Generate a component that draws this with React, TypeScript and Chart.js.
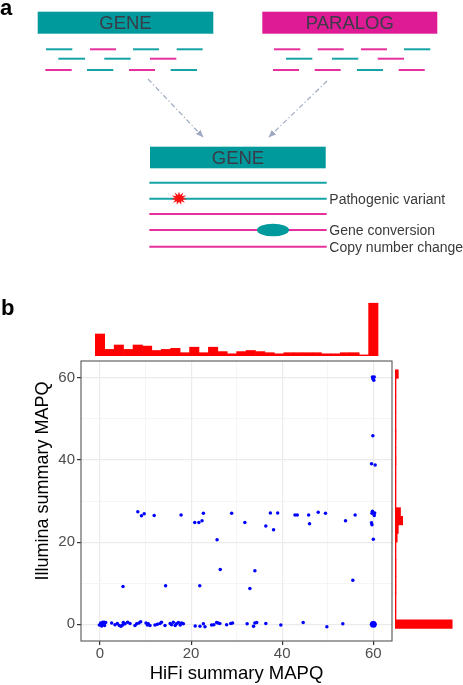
import React, { useEffect, useRef } from "react";
import { Chart, registerables } from "chart.js";
Chart.register(...registerables);

const FONT = "'Liberation Sans', Arial, Helvetica, sans-serif";

// ---------- panel b data ----------
const hifiMapq = [
  -0.14, 0.15, 0.37, 0.59, 0.8, 1.0, 1.24, 0.6, 0.9,
  2.56, 3.29, 3.8, 4.24, 4.6, 4.97, 5.12, 5.49, 6.07, 6.59,
  7.68, 8.05, 8.56, 8.93,
  10.1, 10.4, 10.6, 10.98,
  12.07, 12.6, 13.17, 13.5, 14.27,
  15.4, 15.7, 16.1, 16.5, 16.8, 17.2, 17.6, 17.9, 18.3,
  20.9, 21.95, 22.7, 23.05,
  24.5, 25.0, 25.6, 25.9, 26.3,
  27.8, 28.7, 29.1,
  32.3, 33.7, 34.0, 34.4,
  36.4, 39.7, 44.6, 49.8, 53.3,
  59.7, 60.3, 59.7, 60.3, 60.0, 60.0, 60.0, 59.6, 60.4,
  5.05, 14.4, 21.9, 26.4, 32.9, 34.0, 55.5,
  25.7, 60.0,
  8.3, 9.1, 9.7, 11.9, 17.8, 20.8, 21.7, 22.4, 22.7, 28.9, 31.8,
  36.4, 37.4, 38.1, 39.0, 42.8, 43.3, 45.8, 46.0, 47.9, 49.5, 53.9, 56.0,
  59.8, 60.3, 60.2, 59.7, 59.6, 59.7,
  59.6, 60.4, 59.9,
  59.8, 60.2, 59.9, 60.1,
];
const illuminaMapq = [
  -0.2, 0.3, -0.4, 0.5, 0.1, -0.3, 0.4, -0.1, 0.5,
  0.3, -0.1, 0.2, -0.3, -0.5, -0.2, 0.4, 0.1, 0.5, 0.2,
  -0.3, 0.1, 0.3, 0.6,
  0.3, -0.2, 0.1, -0.3,
  -0.2, 0.0, 0.2, 0.5, -0.3,
  0.2, -0.1, 0.5, -0.3, 0.1, 0.4, -0.2, 0.3, 0.1,
  -0.4, -0.5, 0.1, -0.6,
  -0.2, -0.1, 0.4, 0.3, 0.2,
  -0.1, 0.2, 0.3,
  0.1, -0.5, 0.3, 0.4,
  0.2, -0.2, 0.4, -0.6, 0.1,
  0.3, 0.3, -0.35, -0.35, 0.0, 0.4, -0.4, 0.0, 0.0,
  9.2, 9.4, 9.4, 13.3, 8.7, 13.0, 10.7,
  20.6, 20.7,
  27.4, 26.4, 26.9, 26.5, 26.6, 24.8, 24.8, 25.2, 27.0, 27.0, 24.8,
  23.9, 27.1, 23.0, 27.1, 26.6, 26.6, 26.6, 24.5, 27.3, 27.0, 25.2, 26.6,
  27.5, 27.1, 26.5, 27.0, 24.7, 24.2,
  39.1, 38.8, 45.9,
  60.2, 60.2, 59.8, 59.4,
];

const binCenters = [
  0, 2.07, 4.14, 6.21, 8.28, 10.34, 12.41, 14.48, 16.55, 18.62,
  20.69, 22.76, 24.83, 26.9, 28.97, 31.03, 33.1, 35.17, 37.24, 39.31,
  41.38, 43.45, 45.52, 47.59, 49.66, 51.72, 53.79, 55.86, 57.93, 60,
];
const hifiCounts = [
  20, 6, 10, 6, 10, 9, 5, 6, 7, 3,
  8, 3, 8, 4, 2, 4, 5, 4, 3, 2,
  3, 3, 3, 3, 2, 2, 3, 3, 1, 48,
];
const illuminaCounts = [
  52, 0, 0, 0, 1, 1, 1, 1, 0, 0,
  2, 3, 7, 5, 0, 0, 0, 0, 0, 1,
  0, 0, 1, 0, 0, 0, 0, 0, 0, 3,
];
const majorTicks = [0, 20, 40, 60];

const xTitle = "HiFi summary MAPQ";
const yTitle = "Illumina summary MAPQ";

const X_MIN = -4.17, X_MAX = 64.1, Y_MIN = -4.08, Y_MAX = 64.1;

// ---------- panel a (diagram) ----------
const TEAL_BOX = "#009a9c";
const MAG_BOX = "#de1b95";
const TEAL = "#17a3a6";
const MAG = "#e5309e";
type Seg = [number, number, number, string];
const reads: Seg[] = [
  [46, 72.3, 49.3, "t"], [90, 116, 49.3, "m"], [133, 159, 49.3, "t"], [176.7, 202.7, 49.3, "t"],
  [58.3, 85, 58.7, "t"], [104.3, 130.7, 58.7, "t"], [150, 176.3, 58.7, "m"],
  [45.3, 71.7, 70, "m"], [87, 113.3, 70, "t"], [129, 155, 70, "m"], [170.7, 197, 70, "t"],
  [274, 300.3, 49.3, "m"], [317.7, 343.7, 49.3, "m"], [361, 387, 49.3, "m"], [404, 430.3, 49.3, "t"],
  [286, 312.3, 58.7, "t"], [332, 358.3, 58.7, "t"], [377.7, 404, 58.7, "m"],
  [273, 299, 70, "m"], [314.7, 340.7, 70, "m"], [357, 383, 70, "t"], [398.7, 424.7, 70, "m"],
];

function starPoints(cx: number, cy: number) {
  const pts: string[] = [];
  const n = 11;
  for (let i = 0; i < n * 2; i++) {
    const r = i % 2 === 0 ? 8 : 4;
    const a = (Math.PI * i) / n - Math.PI / 2;
    pts.push(`${(cx + r * Math.cos(a)).toFixed(1)},${(cy + r * 0.85 * Math.sin(a)).toFixed(1)}`);
  }
  return pts.join(" ");
}

function Diagram() {
  return (
    <svg width={463} height={685} style={{ position: "absolute", left: 0, top: 0, pointerEvents: "none" }}>
      <defs>
        <marker id="ah" markerWidth="8" markerHeight="8" refX="7" refY="4" orient="auto" markerUnits="userSpaceOnUse">
          <path d="M0,0.8 L7.5,4 L0,7.2 Z" fill="#9ea9c3" />
        </marker>
      </defs>
      <text x={0} y={15} fontFamily={FONT} fontWeight="bold" fontSize={22} fill="#000">a</text>
      <rect x={37.7} y={11.7} width={175.6} height={22} fill={TEAL_BOX} />
      <text x={125.5} y={29.3} textAnchor="middle" fontFamily={FONT} fontSize={18.5} fill="#3a3b47">GENE</text>
      <rect x={262.3} y={11.7} width={175} height={22} fill={MAG_BOX} />
      <text x={349.8} y={29.3} textAnchor="middle" fontFamily={FONT} fontSize={18.5} fill="#3a3b47">PARALOG</text>
      {reads.map((r, i) => (
        <line key={i} x1={r[0]} x2={r[1]} y1={r[2]} y2={r[2]} stroke={r[3] === "t" ? TEAL : MAG} strokeWidth={2} />
      ))}
      <line x1={148} y1={79} x2={203} y2={137} stroke="#9ea9c3" strokeWidth={1.2} strokeDasharray="5 2.5 1.2 2.5" markerEnd="url(#ah)" />
      <line x1={327} y1={81} x2={269} y2={137} stroke="#9ea9c3" strokeWidth={1.2} strokeDasharray="5 2.5 1.2 2.5" markerEnd="url(#ah)" />
      <rect x={150} y={146.7} width={175.7} height={21.6} fill={TEAL_BOX} />
      <text x={238} y={164} textAnchor="middle" fontFamily={FONT} fontSize={18.5} fill="#3a3b47">GENE</text>
      <line x1={149.3} x2={326.7} y1={182.7} y2={182.7} stroke={TEAL} strokeWidth={2} />
      <line x1={149.3} x2={326.7} y1={198.7} y2={198.7} stroke={TEAL} strokeWidth={2} />
      <polygon points={starPoints(179, 198.3)} fill="#ff1010" />
      <line x1={149.3} x2={326.7} y1={214} y2={214} stroke={MAG} strokeWidth={2} />
      <line x1={149.3} x2={326.7} y1={230} y2={230} stroke={MAG} strokeWidth={2} />
      <ellipse cx={273} cy={230} rx={16} ry={6.3} fill={TEAL_BOX} />
      <line x1={149.3} x2={326.7} y1={246.7} y2={246.7} stroke={MAG} strokeWidth={2} />
      <text x={329.3} y={204.2} fontFamily={FONT} fontSize={14} fill="#3a3a3a">Pathogenic variant</text>
      <text x={329.3} y={235.2} fontFamily={FONT} fontSize={14} fill="#3a3a3a">Gene conversion</text>
      <text x={329.3} y={251.8} fontFamily={FONT} fontSize={14} fill="#3a3a3a">Copy number change</text>
      <text x={1} y={315} fontFamily={FONT} fontWeight="bold" fontSize={22} fill="#000">b</text>
      <text x={236.5} y={678.5} textAnchor="middle" fontFamily={FONT} fontSize={18.5} fill="#000">{xTitle}</text>
      <text transform="translate(48.3,481) rotate(-90)" x={0} y={0} textAnchor="middle" fontFamily={FONT} fontSize={18} fill="#000">{yTitle}</text>
    </svg>
  );
}

const isMajor = (v: number) => Math.abs(v % 20) < 1e-6;

const borderPlugin = {
  id: "panelBorder",
  afterDraw(chart: any) {
    const { ctx, chartArea: a } = chart;
    ctx.save();
    ctx.strokeStyle = "#555555";
    ctx.lineWidth = 1.1;
    ctx.strokeRect(a.left, a.top, a.right - a.left, a.bottom - a.top);
    ctx.restore();
  },
};

function useChart(ref: React.RefObject<HTMLCanvasElement>, make: (c: HTMLCanvasElement) => Chart) {
  useEffect(() => {
    if (!ref.current) return;
    const ch = make(ref.current);
    return () => ch.destroy();
  }, []);
}

export default function App() {
  const mainRef = useRef<HTMLCanvasElement>(null);
  const topRef = useRef<HTMLCanvasElement>(null);
  const rightRef = useRef<HTMLCanvasElement>(null);

  useChart(mainRef, (c) =>
    new Chart(c, {
      type: "scatter",
      data: {
        datasets: [
          {
            data: hifiMapq.map((x, i) => ({ x, y: illuminaMapq[i] })),
            backgroundColor: "#0000ff",
            borderWidth: 0,
            pointRadius: 1.75,
          },
        ],
      },
      options: {
        animation: false,
        responsive: false,
        devicePixelRatio: 1,
        layout: { padding: { left: 0, right: 8, top: 7, bottom: 0 } },
        plugins: { legend: { display: false }, tooltip: { enabled: false } },
        scales: {
          x: {
            type: "linear",
            min: X_MIN,
            max: X_MAX,
            ticks: {
              stepSize: 10,
              includeBounds: false,
              autoSkip: false,
              maxRotation: 0,
              padding: 0,
              color: "#4d4d4d",
              font: { family: FONT, size: 15 },
              callback: (v: any) => (isMajor(Number(v)) && majorTicks.includes(Number(v)) ? String(v) : ""),
            },
            grid: {
              color: (ctx: any) => (isMajor(ctx.tick.value) ? "#ebebeb" : "#f2f2f2"),
              lineWidth: (ctx: any) => (isMajor(ctx.tick.value) ? 1.2 : 0.8),
              tickColor: (ctx: any) => (isMajor(ctx.tick.value) ? "#333333" : "rgba(0,0,0,0)"),
              tickLength: 4,
            },
            border: { display: false },
            afterFit: (s: any) => { s.height = 44; },
          },
          y: {
            type: "linear",
            min: Y_MIN,
            max: Y_MAX,
            ticks: {
              stepSize: 10,
              includeBounds: false,
              autoSkip: false,
              padding: 2,
              color: "#4d4d4d",
              font: { family: FONT, size: 15 },
              callback: (v: any) => (isMajor(Number(v)) && majorTicks.includes(Number(v)) ? String(v) : ""),
            },
            grid: {
              color: (ctx: any) => (isMajor(ctx.tick.value) ? "#ebebeb" : "#f2f2f2"),
              lineWidth: (ctx: any) => (isMajor(ctx.tick.value) ? 1.2 : 0.8),
              tickColor: (ctx: any) => (isMajor(ctx.tick.value) ? "#333333" : "rgba(0,0,0,0)"),
              tickLength: 4,
            },
            border: { display: false },
            afterFit: (s: any) => { s.width = 81; },
          },
        },
      },
      plugins: [borderPlugin],
    } as any)
  );

  useChart(topRef, (c) =>
    new Chart(c, {
      type: "bar",
      data: {
        datasets: [
          {
            data: binCenters.map((x, i) => ({ x, y: hifiCounts[i] })),
            backgroundColor: "#ff0000",
            borderWidth: 0,
            barPercentage: 1,
            categoryPercentage: 1,
          },
        ],
      },
      options: {
        animation: false,
        responsive: false,
        devicePixelRatio: 1,
        layout: { padding: { left: 81, right: 8, top: 0, bottom: 0 } },
        plugins: { legend: { display: false }, tooltip: { enabled: false } },
        scales: {
          x: { type: "linear", display: false, offset: false, min: X_MIN, max: X_MAX, ticks: { stepSize: 10 }, grid: { offset: false } },
          y: { type: "linear", display: false, min: 0, max: 60 / 1.1 },
        },
      },
    } as any)
  );

  useChart(rightRef, (c) =>
    new Chart(c, {
      type: "bar",
      data: {
        datasets: [
          {
            data: binCenters.map((y, i) => ({ y, x: illuminaCounts[i] })),
            backgroundColor: "#ff0000",
            borderWidth: 0,
            barPercentage: 1,
            categoryPercentage: 1,
            minBarLength: 1,
          },
        ],
      },
      options: {
        indexAxis: "y",
        animation: false,
        responsive: false,
        devicePixelRatio: 1,
        layout: { padding: { left: 5, right: 0, top: 7, bottom: 44 } },
        plugins: { legend: { display: false }, tooltip: { enabled: false } },
        scales: {
          x: { type: "linear", display: false, min: 0, max: 68 / 1.1 },
          y: { type: "linear", display: false, offset: false, min: Y_MIN, max: Y_MAX, ticks: { stepSize: 10 }, grid: { offset: false } },
        },
      },
    } as any)
  );

  return (
    <div style={{ position: "absolute", left: 0, top: 0, width: 463, height: 685, background: "#fff", overflow: "hidden" }}>
      <canvas ref={topRef} width={400} height={60} style={{ position: "absolute", left: 0, top: 296, display: "block" }} />
      <canvas ref={mainRef} width={400} height={335} style={{ position: "absolute", left: 0, top: 350, display: "block" }} />
      <canvas ref={rightRef} width={73} height={335} style={{ position: "absolute", left: 390, top: 350, display: "block" }} />
      <Diagram />
    </div>
  );
}
